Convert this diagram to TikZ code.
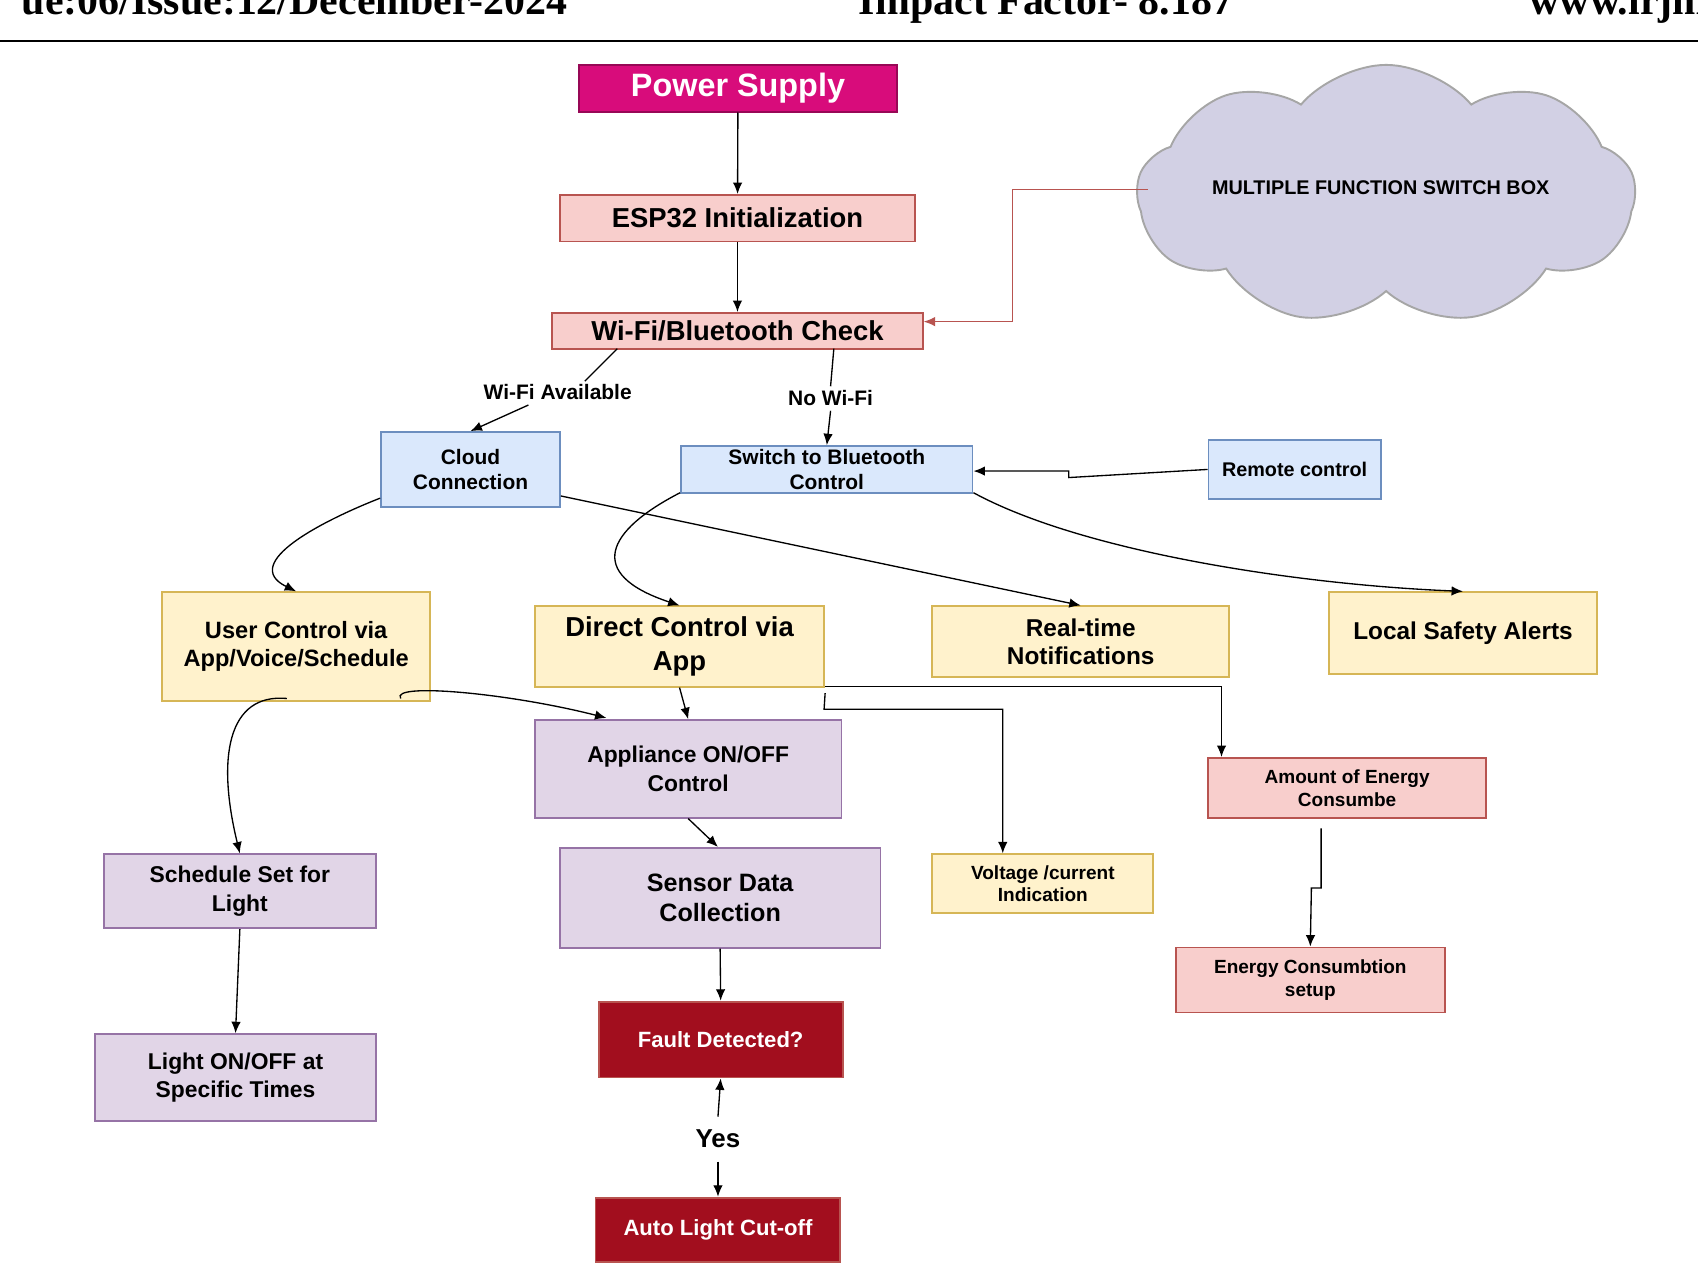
\documentclass[tikz,border=0pt]{standalone}
\usepackage{fontspec}
\setmainfont{Liberation Sans}
\newfontfamily\hdr{Liberation Serif}
\usetikzlibrary{shapes.symbols,arrows.meta}
\definecolor{pk}{HTML}{F8CECC}\definecolor{pkb}{HTML}{B85450}
\definecolor{bl}{HTML}{DAE8FC}\definecolor{blb}{HTML}{6C8EBF}
\definecolor{yl}{HTML}{FFF2CC}\definecolor{ylb}{HTML}{D6B656}
\definecolor{pu}{HTML}{E1D5E7}\definecolor{pub}{HTML}{9673A6}
\definecolor{mag}{HTML}{D80C7B}\definecolor{dred}{HTML}{A20E1E}
\definecolor{cl}{HTML}{D2D0E4}
\begin{document}
\begin{tikzpicture}[x=0.01cm,y=-0.01cm,
 b/.style={draw,line width=0.5pt,align=center,inner sep=0pt,font=\bfseries\fontsize{5.5}{6.5}\selectfont},
 pink/.style={b,fill=pk,draw=pkb},blue/.style={b,fill=bl,draw=blb},
 yel/.style={b,fill=yl,draw=ylb},pur/.style={b,fill=pu,draw=pub},
 red/.style={b,fill=dred,draw=pkb,text=white},
 e/.style={line width=0.35pt,-{Latex[length=3pt,width=2.5pt]}},
 lab/.style={font=\bfseries\fontsize{5.5}{6}\selectfont,inner sep=1pt},
 hd/.style={font=\hdr\bfseries\fontsize{11}{11}\selectfont,anchor=base}]
\useasboundingbox (0,0) rectangle (1568,1188);
\fill[white] (0,0) rectangle (1568,1188);
\node[hd] (h1) at (272,13) {ue:06/Issue:12/December-2024};
\node[hd] (h2) at (966,13) {Impact Factor- 8.187};
\node[hd,anchor=base west] (h3) at (1400,13) {www.irjm};
\draw[line width=0.6pt] (0,38) -- (1568,38);

\node[b,fill=mag,draw=mag!70!black,text=white,minimum width=2.93cm,minimum height=.43cm,font=\bfseries\fontsize{8.5}{9}\selectfont] (ps) at (681.5,81.5) {Power Supply};
\node[pink,minimum width=3.28cm,minimum height=.43cm,font=\bfseries\fontsize{7.2}{8}\selectfont] (esp) at (681,201.5) {ESP32 Initialization};
\node[pink,minimum width=3.42cm,minimum height=.33cm,font=\bfseries\fontsize{7.2}{8}\selectfont] (chk) at (681,305.5) {Wi-Fi/Bluetooth Check};
\node[blue,minimum width=1.65cm,minimum height=.69cm] (cc) at (434.5,433.5) {Cloud\\Connection};
\node[blue,minimum width=2.69cm,minimum height=.43cm] (sw) at (763.5,433.5) {Switch to Bluetooth\\Control};
\node[blue,minimum width=1.59cm,minimum height=.55cm,font=\bfseries\fontsize{5.2}{6}\selectfont] (rc) at (1195.5,433.5) {Remote control};
\node[yel,minimum width=2.47cm,minimum height=1cm,font=\bfseries\fontsize{6.2}{7.3}\selectfont] (uc) at (273.5,597) {User Control via\\App/Voice/Schedule};
\node[yel,minimum width=2.67cm,minimum height=.74cm,font=\bfseries\fontsize{7.2}{8.8}\selectfont] (dc) at (627.5,597) {Direct Control via\\App};
\node[yel,minimum width=2.74cm,minimum height=.65cm,font=\bfseries\fontsize{6.4}{7.5}\selectfont] (rt) at (998,592.5) {Real-time\\Notifications};
\node[yel,minimum width=2.48cm,minimum height=.75cm,font=\bfseries\fontsize{6.4}{7.5}\selectfont] (ls) at (1351,584.5) {Local Safety Alerts};
\node[pur,minimum width=2.83cm,minimum height=.9cm,font=\bfseries\fontsize{6}{7.5}\selectfont] (ap) at (635.5,710) {Appliance ON/OFF\\Control};
\node[pur,minimum width=2.96cm,minimum height=.92cm,font=\bfseries\fontsize{6.6}{7.8}\selectfont] (sd) at (665,829) {Sensor Data\\Collection};
\node[pur,minimum width=2.51cm,minimum height=.68cm,font=\bfseries\fontsize{6}{7.5}\selectfont] (ss) at (221.5,823) {Schedule Set for\\Light};
\node[pur,minimum width=2.59cm,minimum height=.8cm,font=\bfseries\fontsize{6}{7.5}\selectfont] (lo) at (217.5,995) {Light ON/OFF at\\Specific Times};
\node[yel,minimum width=2.04cm,minimum height=.54cm,font=\bfseries\fontsize{5}{6}\selectfont] (vc) at (963,816) {Voltage /current\\Indication};
\node[pink,minimum width=2.56cm,minimum height=.55cm,font=\bfseries\fontsize{5}{6}\selectfont] (am) at (1244,727.5) {Amount of Energy\\Consumbe};
\node[pink,minimum width=2.48cm,minimum height=.6cm,font=\bfseries\fontsize{5}{6}\selectfont] (es) at (1210,905) {Energy Consumbtion\\setup};
\node[red,minimum width=2.25cm,minimum height=.7cm,font=\bfseries\fontsize{5.8}{7}\selectfont] (fd) at (665.5,960) {Fault Detected?};
\node[red,minimum width=2.26cm,minimum height=.59cm,font=\bfseries\fontsize{5.8}{7}\selectfont] (al) at (663,1135.5) {Auto Light Cut-off};
\node[cloud,cloud puffs=9,cloud puff arc=100,aspect=1.9,draw=gray!70,fill=cl,line width=0.5pt,minimum width=4.6cm,minimum height=2.4cm,inner sep=0pt] (cld) at (1280,180) {};
\node[font=\bfseries\fontsize{5.2}{6}\selectfont] (cldt) at (1275,173) {MULTIPLE FUNCTION SWITCH BOX};

\draw[e] (ps) -- (esp);
\draw[e] (esp) -- (chk);
\coordinate (c1) at (1060,175);
\draw[e,draw=pkb] (c1) -- (935,175) -- (935,297) -- (chk.east|-0,297);
\node[lab] (wa) at (515,362) {Wi-Fi Available};
\coordinate (w1) at (570,322);
\coordinate (w2) at (540,352);
\coordinate (w3) at (488,374);
\draw[line width=0.35pt] (w1) -- (w2);
\draw[e] (w3) -- (cc.north);
\node[lab] (nw) at (767,368) {No Wi-Fi};
\draw[line width=0.35pt] (770,322) -- (nw.north);
\draw[e] (nw.south) -- (sw.north);
\draw[e] (rc.west) -- (987,441) -- (987,435) -- (sw.east|-0,435);
\draw[e] (cc.west|-0,460) .. controls (300,480) and (220,520) .. (uc.north);
\draw[e] (cc.east|-0,458) -- (rt.north);
\draw[e] (sw.west|-0,455) .. controls (560,490) and (540,530) .. (dc.north);
\draw[e] (sw.east|-0,455) .. controls (1000,510) and (1200,540) .. (ls.north);
\draw[e] (370,645) .. controls (360,630) and (470,640) .. (560,663);
\draw[e] (265,645) .. controls (210,640) and (200,700) .. (ss.north);
\draw[e] (dc.south) -- (ap.north);
\draw[e] (dc.east|-0,634) -- (1128,634) -- (1128,699);
\draw[e] (dc.east|-0,640) -- (761,655) -- (926,655) -- (926,788);
\draw[e] (ap.south) -- (sd.north -| 663,0);
\draw[e] (sd.south) -- (fd.north);
\draw[e] (ss.south) -- (lo.north);
\node[font=\bfseries\fontsize{6.8}{8}\selectfont] (yes) at (663,1052) {Yes};
\draw[e] (yes.north) -- (fd.south);
\draw[e] (yes.south) -- (al.north);
\draw[e] (1220,765) -- (1220,820) -- (1211,820) -- (es.north);
\end{tikzpicture}
\end{document}
